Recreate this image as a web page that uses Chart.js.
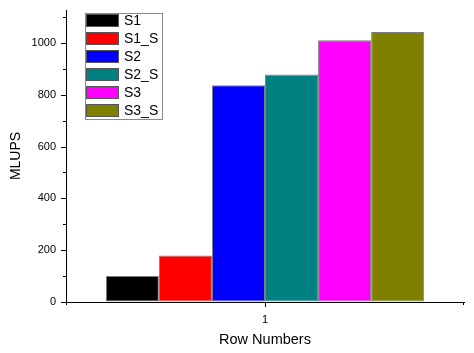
<!DOCTYPE html>
<html>
<head>
<meta charset="utf-8">
<script src="https://cdn.jsdelivr.net/npm/chart.js@4.4.0/dist/chart.umd.min.js"></script>
<style>
  body { margin: 0; background: #fff; }
  #wrap { width: 474px; height: 353px; }
</style>
</head>
<body>
<div id="wrap"><canvas id="BarChart" width="474" height="353"></canvas></div>
<script>
// data
const categories = ['1'];
const seriesNames = ['S1', 'S1_S', 'S2', 'S2_S', 'S3', 'S3_S'];
const seriesValues = [100, 179, 837, 878, 1010, 1042];
const yMajorTicks = [0, 200, 400, 600, 800, 1000];
const yMinorTicks = [100, 300, 500, 700, 900, 1100];

const barColors = ['#000000', '#ff0000', '#0000ff', '#008080', '#ff00ff', '#808000'];
const fontFamily = '"Liberation Sans", Arial, sans-serif';

var datasets = [];
for (let i = 0; i < seriesNames.length; i++) {
    datasets.push({
        label: seriesNames[i],
        data: [seriesValues[i]],
        backgroundColor: barColors[i],
        borderColor: 'rgba(40, 40, 40, 0.6)',
        borderWidth: 1,
        borderSkipped: false,
        categoryPercentage: 0.8,
        barPercentage: 1.0
    });
}

// axis ticks (major + minor) and the boxed legend inside the plot
const originStyle = {
    id: 'originStyle',
    afterDraw(chart) {
        const ctx = chart.ctx;
        const x = chart.scales.x, y = chart.scales.y;
        const axisX = y.right, axisY = x.top;
        ctx.save();
        ctx.strokeStyle = '#000';
        ctx.lineWidth = 1;
        ctx.beginPath();
        yMajorTicks.forEach(v => {
            const py = Math.round(y.getPixelForValue(v)) + 0.5;
            ctx.moveTo(axisX - 5, py); ctx.lineTo(axisX, py);
        });
        yMinorTicks.forEach(v => {
            const py = Math.round(y.getPixelForValue(v)) + 0.5;
            ctx.moveTo(axisX - 3, py); ctx.lineTo(axisX, py);
        });
        const cx = Math.round(x.getPixelForValue(0)) + 0.5;
        ctx.moveTo(cx, axisY); ctx.lineTo(cx, axisY + 5);
        ctx.moveTo(Math.round(x.left) + 0.5, axisY); ctx.lineTo(Math.round(x.left) + 0.5, axisY + 3);
        ctx.moveTo(Math.round(x.right) - 0.5, axisY); ctx.lineTo(Math.round(x.right) - 0.5, axisY + 3);
        ctx.stroke();

        // legend
        const lx = 85, ly = 13, lw = 77, rowH = 18;
        const lh = rowH * chart.data.datasets.length - 2;
        ctx.fillStyle = '#fff';
        ctx.fillRect(lx, ly, lw, lh);
        ctx.strokeStyle = '#8a8a8a';
        ctx.strokeRect(lx + 0.5, ly + 0.5, lw, lh);
        ctx.font = '14px ' + fontFamily;
        ctx.textBaseline = 'middle';
        chart.data.datasets.forEach((ds, i) => {
            const sy = ly + 1 + i * rowH;
            ctx.fillStyle = ds.backgroundColor;
            ctx.fillRect(lx + 1, sy, 33, 13);
            ctx.strokeStyle = '#555';
            ctx.strokeRect(lx + 1.5, sy + 0.5, 32, 12);
            ctx.fillStyle = '#000';
            ctx.fillText(ds.label, lx + 39, sy + 7);
        });
        ctx.restore();
    }
};

var config = {
    type: 'bar',
    data: {
        labels: categories,
        datasets: datasets
    },
    options: {
        responsive: false,
        animation: false,
        layout: { padding: { top: 10, right: 10, left: 0, bottom: 0 } },
        plugins: {
            legend: { display: false },
            tooltip: { enabled: false }
        },
        scales: {
            x: {
                offset: true,
                grid: { display: false },
                border: { display: true, color: '#000', width: 1 },
                ticks: { color: '#000', font: { size: 11, family: fontFamily }, padding: 3 },
                title: {
                    display: true,
                    text: 'Row Numbers',
                    color: '#000',
                    font: { size: 14.5, family: fontFamily },
                    padding: { top: 0, bottom: 4 }
                },
                afterFit(scale) { scale.height = 51; }
            },
            y: {
                min: 0,
                max: 1127,
                // invisible tick space; the visible ticks are drawn by the plugin
                grid: { display: true, drawOnChartArea: false, tickLength: 7, color: 'rgba(0,0,0,0)' },
                border: { display: true, color: '#000', width: 1 },
                ticks: {
                    stepSize: 200,
                    includeBounds: false,
                    color: '#000',
                    font: { size: 11, family: fontFamily },
                    padding: 3,
                    callback: function (value) { return String(value); }
                },
                title: {
                    display: true,
                    text: 'MLUPS',
                    color: '#000',
                    font: { size: 14, family: fontFamily },
                    padding: { top: 8, bottom: 0 }
                },
                afterFit(scale) { scale.width = 66; }
            }
        }
    },
    plugins: [originStyle]
};

window.myBar = new Chart(document.getElementById('BarChart'), config);
</script>
</body>
</html>
